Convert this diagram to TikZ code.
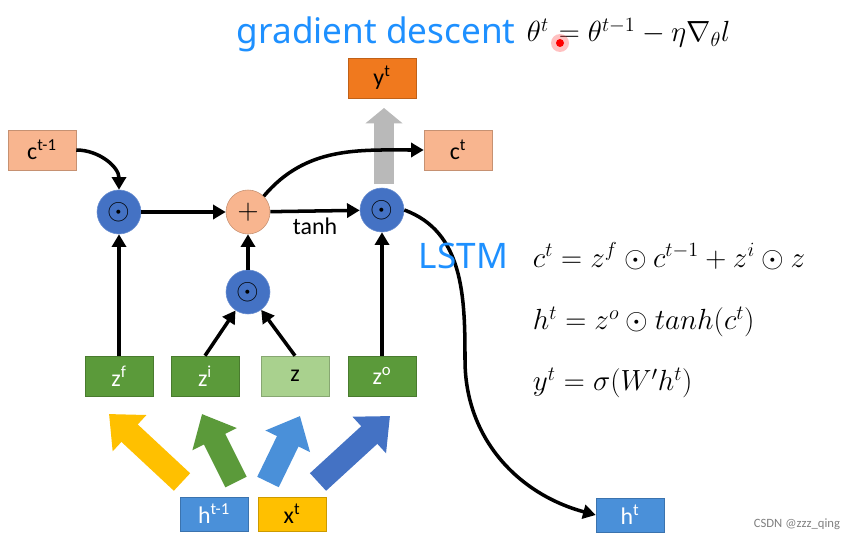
\documentclass[tikz,border=0pt]{standalone}
\usepackage{fontspec}
\usepackage{amsmath}
\setmainfont{Carlito}
\newfontfamily\blu{Noto Sans}
\usetikzlibrary{arrows.meta}
\definecolor{gb}{HTML}{5B9A3A}
\definecolor{gl}{HTML}{A9D18E}
\definecolor{sal}{HTML}{F8B58F}
\definecolor{org}{HTML}{F0791E}
\definecolor{cb}{HTML}{4472C4}
\definecolor{hb}{HTML}{4A90D9}
\definecolor{yel}{HTML}{FFC000}
\definecolor{tb}{HTML}{1E90FF}
\tikzset{
 box/.style={draw=#1!80!black, fill=#1, minimum width=68*0.025cm, minimum height=40*0.025cm, inner sep=0pt, font=\fontsize{17}{17}\selectfont},
 dot/.style={circle, fill=cb, draw=cb!80!white, minimum size=44*0.025cm, inner sep=0pt, font=\fontsize{20}{20}\selectfont},
 ar/.style={line width=2.5pt, -{Triangle[length=9pt,width=10pt]}},
 fat/.style={draw=#1, line width=17pt, -{Triangle[length=20pt,width=34pt]}},
 eq/.style={anchor=west, font=\fontsize{21}{21}\selectfont},
}
\begin{document}
\begin{tikzpicture}[x=0.025cm,y=-0.025cm]
\useasboundingbox (0,0) rectangle (853,538);
% top text
\node[anchor=west, text=tb, font=\blu\fontsize{25}{25}\selectfont] (gd) at (232,34) {gradient descent};
\node[eq] (eqg) at (522,34) {$\theta^t_{\phantom{\theta}}=\theta^{t-1}-\eta\nabla_{\theta} l$};
\fill[red!80, opacity=0.3] (560,43) circle (9);
\fill[red] (560,43) circle (4);
% fat colored arrows
\coordinate (a1s) at (182,482); \coordinate (a1e) at (109,414);
\coordinate (a2s) at (236,482); \coordinate (a2e) at (202,414);
\coordinate (a3s) at (268,482); \coordinate (a3e) at (300,416);
\coordinate (a4s) at (318,482); \coordinate (a4e) at (390,416);
\draw[fat=yel] (a1s) -- (a1e);
\draw[fat=gb] (a2s) -- (a2e);
\draw[fat=hb] (a3s) -- (a3e);
\draw[fat=cb] (a4s) -- (a4e);
% boxes
\node[box=sal] (cp) at (42,150) {c\textsuperscript{t-1}};
\node[box=org] (y) at (382,78) {y\textsuperscript{t}};
\node[box=sal] (c) at (458,150) {c\textsuperscript{t}};
\node[box=gb, text=white] (zf) at (119,376) {z\textsuperscript{f}};
\node[box=gb, text=white] (zi) at (205,376) {z\textsuperscript{i}};
\node[box=gl] (z) at (295,376) {z};
\node[box=gb, text=white] (zo) at (382,376) {z\textsuperscript{o}};
\node[box=hb, text=white, minimum height=34*0.025cm] (hp) at (214,514) {h\textsuperscript{t-1}};
\node[box=yel, minimum height=34*0.025cm] (x) at (292,514) {x\textsuperscript{t}};
\node[box=hb, text=white, minimum height=34*0.025cm] (h) at (630,515) {h\textsuperscript{t}};
% gates
\node[dot] (m1) at (119,212) {$\odot$};
\node[dot, fill=sal, draw=sal!80!black] (p) at (248,212) {$+$};
\node[dot] (m3) at (382,210) {$\odot$};
\node[dot] (m2) at (248,292) {$\odot$};
% gray output arrow
\coordinate (g0) at (384,184);
\coordinate (g1) at (384,108);
\draw[draw=gray!55, line width=14pt, -{Triangle[length=11pt,width=26pt]}] (g0) -- (g1);
% connectors
\draw[ar] (cp.east) to[out=0,in=90] (m1.north);
\draw[ar] (m1) -- (p);
\draw[ar] (p) -- node[below, font=\fontsize{17}{17}\selectfont] (tanh) {tanh} (m3);
\draw[ar] (p.north east) to[out=50,in=180] (c.west);
\draw[ar] (m2) -- (p);
\draw[ar] (zf) -- (m1);
\draw[ar] (zo) -- (m3);
\draw[ar] (zi.north) -- (m2);
\draw[ar] (z.north) -- (m2);
\draw[ar] (m3.east) to[out=-20,in=90] (465,360) to[out=-90,in=165] (h.west);
% right text
\node[anchor=west, text=tb, font=\blu\fontsize{25}{25}\selectfont] (lstm) at (414,256) {LSTM};
\node[eq] (e1) at (528,256) {$c^t=z^f\odot c^{t-1}+z^i\odot z$};
\node[eq] (e2) at (528,322) {$h^t=z^o\odot tanh(c^t)$};
\node[eq] (e3) at (528,383) {$y^t=\sigma(W'h^t)$};
\node[anchor=east, text=gray, font=\fontsize{9}{9}\selectfont] (csdn) at (845,524) {CSDN @zzz\_qing};
\end{tikzpicture}
\end{document}
